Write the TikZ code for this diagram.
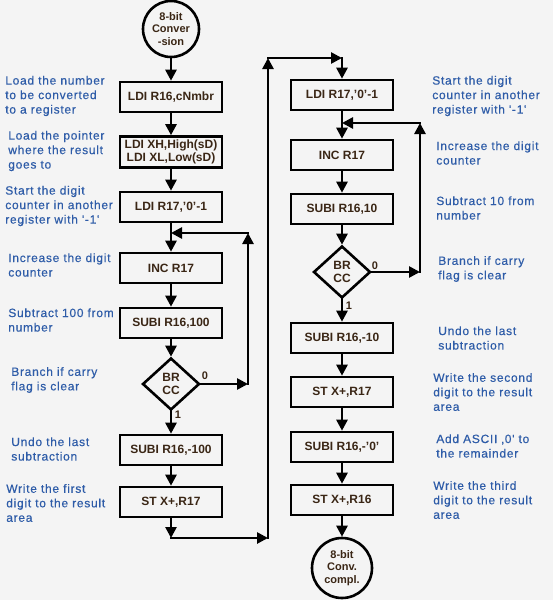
\documentclass[tikz,border=0pt]{standalone}
\usepackage{fontspec}
\setmainfont{Liberation Sans}
\newfontfamily\notefont[LetterSpace=6,FakeBold=0.4]{Liberation Sans}
\usepackage{tikz}
\usetikzlibrary{shapes,arrows,arrows.meta,calc}
\definecolor{notecol}{HTML}{2E5CA8}
\definecolor{cmdcol}{HTML}{3A2615}
\definecolor{bgcol}{HTML}{F4F4F4}
\tikzstyle{every path}=[line width=2.6pt,line cap=rect,line join=miter]
\tikzstyle{block}=[draw,rectangle,minimum width=102pt,minimum height=30pt,inner sep=0pt,align=center,text=cmdcol,font=\bfseries\fontsize{12}{13}\selectfont]
\tikzstyle{decision}=[draw,diamond,minimum width=57pt,minimum height=52pt,inner sep=0pt,align=center,text=cmdcol,font=\bfseries\fontsize{12}{13}\selectfont]
\tikzstyle{term}=[draw,circle,inner sep=0pt,align=center,text=cmdcol,font=\bfseries\fontsize{11}{12.5}\selectfont]
\tikzstyle{note}=[anchor=west,inner sep=0pt,align=left,text=notecol,font=\notefont\fontsize{12}{14.5}\selectfont]
\tikzstyle{lbl}=[inner sep=0pt,text=cmdcol,font=\bfseries\fontsize{11}{12}\selectfont]
\tikzstyle{arr}=[-{Triangle[length=11pt,width=11pt]}]

\begin{document}
\begin{tikzpicture}[x=1pt,y=-1pt]
 \fill[bgcol] (0,0) rectangle (553,600);
 \useasboundingbox (0,0) rectangle (553,600);

 % first digit
 \node[term,minimum size=56pt] (start) at (171,29) {8-bit\\Conver\\-sion};
 \node[block] (b1) at (171,97) {LDI R16,cNmbr};
 \node[block,minimum height=31pt] (b2) at (171,152) {LDI XH,High(sD)\\LDI XL,Low(sD)};
 \node[block] (b3) at (171,207) {LDI R17,'0'-1};
 \node[block] (b4) at (171,268) {INC R17};
 \node[block] (b5) at (171,323) {SUBI R16,100};
 \node[decision] (d1) at (171,384) {BR\\CC};
 \node[block] (b6) at (171,450) {SUBI R16,-100};
 \node[block] (b7) at (171,502) {ST X+,R17};
 \node[lbl] (d1no) at (205,376) {0};
 \node[lbl] (d1yes) at (178,415) {1};

 \node[note] (n1) at (4,96) {Load the number\\to be converted\\to a register};
 \node[note] (n2) at (7,151) {Load the pointer\\where the result\\goes to};
 \node[note] (n3) at (4,206) {Start the digit\\counter in another\\register with '-1'};
 \node[note] (n4) at (7,265) {Increase the digit\\counter};
 \node[note] (n5) at (7,320) {Subtract 100 from\\number};
 \node[note] (n6) at (10,380) {Branch if carry\\flag is clear};
 \node[note] (n7) at (10,449) {Undo the last\\subtraction};
 \node[note] (n8) at (5,503) {Write the first\\digit to the result\\area};

 % second and third digit
 \node[block] (r1) at (342,95) {LDI R17,'0'-1};
 \node[block] (r2) at (342,155) {INC R17};
 \node[block] (r3) at (342,209) {SUBI R16,10};
 \node[decision] (d2) at (342,272) {BR\\CC};
 \node[block] (r4) at (342,338) {SUBI R16,-10};
 \node[block] (r5) at (342,392) {ST X+,R17};
 \node[block] (r6) at (342,447) {SUBI R16,-'0'};
 \node[block] (r7) at (342,500) {ST X+,R16};
 \node[term,minimum size=60pt] (stop) at (342,568) {8-bit\\Conv.\\compl.};
 \node[lbl] (d2no) at (375,266) {0};
 \node[lbl] (d2yes) at (349,306) {1};

 \node[note] (m1) at (431,96) {Start the digit\\counter in another\\register with '-1'};
 \node[note] (m2) at (435,153) {Increase the digit\\counter};
 \node[note] (m3) at (435,208) {Subtract 10 from\\number};
 \node[note] (m4) at (437,269) {Branch if carry\\flag is clear};
 \node[note] (m5) at (437,338) {Undo the last\\subtraction};
 \node[note] (m6) at (432,392) {Write the second\\digit to the result\\area};
 \node[note] (m7) at (435,446) {Add ASCII ‚0' to\\the remainder};
 \node[note] (m8) at (432,500) {Write the third\\digit to the result\\area};

 \coordinate (jl) at (248,233);
 \coordinate (jb) at (268,538);
 \coordinate (jt) at (268,58);
 \coordinate (jr) at (420,123);

 \draw[arr] (start) -- (b1);
 \draw[arr] (b1) -- (b2);
 \draw[arr] (b2) -- (b3);
 \draw[arr] (b3) -- (b4);
 \draw[arr] (b4) -- (b5);
 \draw[arr] (b5) -- (d1);
 \draw[arr] (d1) -- (b6);
 \draw[arr] (b6) -- (b7);
 \draw[arr] (d1.east) -- (d1.east -| jl);
 \draw[arr] (d1.east -| jl) -- (jl);
 \draw[arr] (jl) -- (jl -| b4);
 \draw[arr] (b7) -- (b7 |- jb);
 \draw[arr] (b7 |- jb) -- (jb);
 \draw[arr] (jb) -- (jt);
 \draw[arr] (jt) -- (jt -| r1);
 \draw[arr] (jt -| r1) -- (r1);

 \draw[arr] (r1) -- (r2);
 \draw[arr] (r2) -- (r3);
 \draw[arr] (r3) -- (d2);
 \draw[arr] (d2) -- (r4);
 \draw[arr] (r4) -- (r5);
 \draw[arr] (r5) -- (r6);
 \draw[arr] (r6) -- (r7);
 \draw[arr] (r7) -- (stop);
 \draw[arr] (d2.east) -- (d2.east -| jr);
 \draw[arr] (d2.east -| jr) -- (jr);
 \draw[arr] (jr) -- (jr -| r2);
\end{tikzpicture}
\end{document}
